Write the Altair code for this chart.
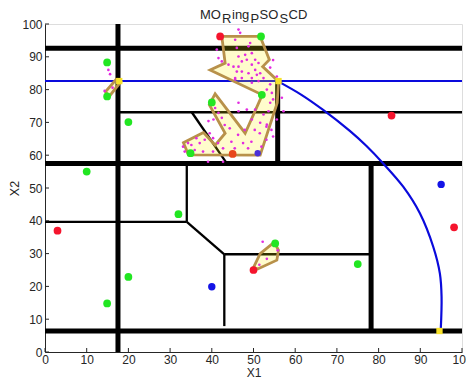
import altair as alt
import pandas as pd

# ---------------- data ----------------
tick_values = [0, 10, 20, 30, 40, 50, 60, 70, 80, 90, 100]

# thick black segments (x, y, x2, y2)
thick_x = [0, 0, 0, 17.5, 55.8, 78.2]
thick_y = [92.6, 57.5, 6.4, 0, 57.5, 6.4]
thick_x2 = [100, 100, 100, 17.5, 55.8, 78.2]
thick_y2 = [92.6, 57.5, 6.4, 100, 82.5, 57.5]

# thin black segments
thin_x = [17.5, 0, 34.0, 34.0, 43.0, 43.0, 35.2]
thin_y = [73.1, 39.7, 39.7, 39.7, 29.8, 29.8, 73.1]
thin_x2 = [100, 34.0, 34.0, 43.0, 78.2, 43.0, 43.6]
thin_y2 = [73.1, 39.7, 57.5, 29.8, 29.8, 7.9, 57.5]

# blue horizontal line
blue_h_y = [82.6]

# blue arc
arc_x = [55.9, 61.5, 66.7, 73.1, 77.1, 81.1, 85.9, 89.9, 93.1, 94.7, 95.1, 94.9]
arc_y = [82.5, 78.4, 73.8, 67.4, 62.8, 57.5, 50.4, 42.3, 32.1, 23.9, 16.8, 6.6]

# polygons
big_x = [42.4, 51.6, 53.8, 52.2, 56.0, 55.7, 51.6, 34.4, 33.2, 38.0, 40.8, 43.2,
         39.4, 40.8, 48.0, 52.1, 39.6, 43.2, 42.4]
big_y = [96.2, 96.2, 89.1, 87.0, 82.5, 76.0, 60.0, 60.1, 63.8, 66.9, 63.1, 66.7,
         75.4, 78.7, 66.7, 78.4, 86.0, 88.1, 96.2]
p1_x = [17.2, 14.5, 15.4, 18.2, 17.2]
p1_y = [83.3, 79.3, 77.9, 82.4, 83.3]
p2_x = [55.0, 51.6, 50.0, 51.0, 55.6, 56.0, 55.0]
p2_y = [33.5, 30.0, 25.8, 25.3, 28.0, 31.0, 33.5]

# magenta sample dots
mag_x = [46.4, 46.8, 45.6, 49.2, 48.8, 46.0, 46.4, 48.0, 49.6, 47.2, 48.4, 50.4,
         45.2, 46.4, 49.6, 51.2, 44.0, 46.0, 47.2, 48.8, 50.4, 51.6, 54.0, 54.7,
         41.6, 42.4, 41.2, 52.4, 49.6, 47.2, 45.6, 50.8, 55.6,
         45.6, 49.6, 51.2, 54.0, 53.2, 54.4, 54.7, 54.0, 56.8, 57.2, 55.6, 40.8,
         41.6, 42.4, 40.4, 46.4, 48.4, 50.4, 52.4, 53.6, 49.6, 51.6, 53.2, 39.2, 46.4,
         43.1, 44.3, 46.3, 47.9, 50.3, 51.5, 53.1, 53.1, 49.5, 47.5, 44.7, 41.5,
         42.7, 45.5, 48.7, 51.9, 36.3, 37.1, 35.1, 34.3, 35.9, 37.9, 40.3, 33.5,
         33.1, 39.1, 42.7, 38.3, 39.5, 40.3, 54.3, 54.7,
         15.2, 15.6, 14.3, 16.2, 52.2, 55.8, 51.4, 53.2, 94.6]
mag_y = [98.3, 97.3, 95.2, 94.2, 93.2, 92.7, 90.1, 90.6, 91.1, 88.6, 89.1, 89.1,
         87.0, 87.0, 87.6, 88.1, 87.6, 85.5, 85.5, 85.0, 86.0, 85.0, 86.7, 89.0,
         89.6, 88.6, 92.2, 83.5, 83.5, 83.5, 83.5, 84.5, 84.0,
         83.1, 82.1, 82.6, 81.6, 80.0, 79.0, 77.0, 76.0, 77.5, 73.4, 70.9, 74.4,
         72.9, 71.4, 70.9, 73.4, 73.9, 73.9, 72.4, 73.4, 70.9, 69.9, 69.3, 70.4, 76.0,
         69.2, 68.2, 66.2, 67.7, 67.7, 66.7, 68.7, 64.7, 64.1, 63.7, 64.1, 63.7,
         62.1, 62.1, 62.1, 62.6, 65.2, 63.7, 63.1, 63.7, 61.6, 61.1, 61.1, 61.1,
         62.6, 58.0, 58.0, 64.7, 66.7, 65.2, 67.7, 65.7,
         86.0, 84.7, 79.6, 80.6, 33.6, 31.0, 26.6, 28.4, 6.4]

# coloured samples
green_x = [14.9, 14.9, 20.0, 10.0, 32.0, 20.0, 14.9, 75.0, 55.2, 51.8, 52.0, 40.0, 34.9]
green_y = [88.3, 77.9, 70.1, 55.0, 42.0, 22.9, 14.8, 26.8, 33.1, 96.2, 78.4, 76.1, 60.6]
red_x = [3.0, 42.0, 83.1, 98.1, 50.0]
red_y = [37.0, 96.2, 72.1, 38.0, 25.0]
orange_x = [45.0]
orange_y = [60.4]
blue_x = [40.0, 95.0]
blue_y = [19.9, 51.1]
violet_x = [51.0]
violet_y = [60.6]
yellow_x = [17.8, 56.0, 94.6]
yellow_y = [82.6, 82.6, 6.4]

title_parts = ["MO", "R", "ing", "P", "SO", "S", "CD"]
title_sub = [False, True, False, True, False, True, False]

# ---------------- chart ----------------
W, H = 417, 328
FONT = "Liberation Sans"
AX = "#262626"

xs = alt.Scale(domain=[0, 100], nice=False, zero=False)
ys = alt.Scale(domain=[0, 100], nice=False, zero=False)

x_axis = alt.Axis(values=tick_values, tickSize=0, grid=False, labelPadding=2,
                  title="X1", titlePadding=2, domainColor=AX, labelColor=AX,
                  titleColor=AX, labelFont=FONT, titleFont=FONT, labelFontSize=12,
                  titleFontSize=12, titleFontWeight="normal", labelFlush=False)
y_axis = alt.Axis(values=tick_values, tickSize=0, grid=False, labelPadding=3,
                  title="X2", titlePadding=0, domainColor=AX, labelColor=AX,
                  titleColor=AX, labelFont=FONT, titleFont=FONT, labelFontSize=12,
                  titleFontSize=12.5, titleFontWeight="normal", labelFlush=False)


def X(f):
    return alt.X(f, type="quantitative", scale=xs, axis=x_axis)


def Y(f):
    return alt.Y(f, type="quantitative", scale=ys, axis=y_axis)


def pts(xv, yv):
    return pd.DataFrame({"x": xv, "y": yv})


thick_df = pd.DataFrame({"x": thick_x, "y": thick_y, "x2": thick_x2, "y2": thick_y2})
thin_df = pd.DataFrame({"x": thin_x, "y": thin_y, "x2": thin_x2, "y2": thin_y2})

thick = alt.Chart(thick_df).mark_rule(color="black", strokeWidth=5, strokeCap="butt").encode(
    x=X("x"), y=Y("y"), x2="x2", y2="y2")
thin = alt.Chart(thin_df).mark_rule(color="black", strokeWidth=2.3, strokeCap="butt").encode(
    x=X("x"), y=Y("y"), x2="x2", y2="y2")

blue_h = alt.Chart(pd.DataFrame({"x": [0], "x2": [100], "y": blue_h_y})).mark_rule(
    color="#0A0ADC", strokeWidth=2).encode(x=X("x"), x2="x2", y=Y("y"))

arc_df = pd.DataFrame({"x": arc_x, "y": arc_y, "i": list(range(len(arc_x)))})
arc = alt.Chart(arc_df).mark_line(color="#0A0ADC", strokeWidth=2.2,
                                  interpolate="catmull-rom").encode(
    x=X("x"), y=Y("y"), order="i:Q")

poly_rows = []
for name, px, py in [("big", big_x, big_y), ("p1", p1_x, p1_y), ("p2", p2_x, p2_y)]:
    for i, (a, b) in enumerate(zip(px, py)):
        poly_rows.append({"poly": name, "i": i, "x": a, "y": b})
poly_df = pd.DataFrame(poly_rows)
polys = alt.Chart(poly_df).mark_line(fill="#FFF000", fillOpacity=0.2, stroke="#B8914A",
                                     strokeWidth=2.8, strokeJoin="miter").encode(
    x=X("x"), y=Y("y"), order="i:Q", detail="poly:N")

mag = alt.Chart(pts(mag_x, mag_y)).mark_circle(color="#E22BE0", size=7, opacity=1).encode(
    x=X("x"), y=Y("y"))

def dots(xv, yv, color, size):
    return alt.Chart(pts(xv, yv)).mark_circle(color=color, size=size, opacity=1).encode(
        x=X("x"), y=Y("y"))

green = dots(green_x, green_y, "#22E622", 60)
red = dots(red_x, red_y, "#F5142D", 60)
orange = dots(orange_x, orange_y, "#E8461A", 60)
blue = dots(blue_x, blue_y, "#1414E6", 55)
violet = dots(violet_x, violet_y, "#4A30D8", 40)
yellow = alt.Chart(pts(yellow_x, yellow_y)).mark_square(color="#F7E22A", size=40, opacity=1).encode(
    x=X("x"), y=Y("y"))

# inward ticks
tick_df = pd.DataFrame({"v": tick_values})
xticks = alt.Chart(tick_df).mark_rule(color=AX, strokeWidth=1).encode(
    x=X("v"), y=alt.value(H), y2=alt.value(H - 4))
yticks = alt.Chart(tick_df).mark_rule(color=AX, strokeWidth=1).encode(
    y=Y("v"), x=alt.value(0), x2=alt.value(4))

# title with subscripts (layout positions in pixels)
title_x = [155, 177, 187, 205.5, 214.5, 234.5, 243.5]
title_layers = []
for t, sub, tx in zip(title_parts, title_sub, title_x):
    title_layers.append(
        alt.Chart(pd.DataFrame({"t": [t]})).mark_text(
            align="left", baseline="alphabetic", font=FONT, fontSize=13,
            color=AX).encode(text="t:N", x=alt.value(tx),
                             y=alt.value(-1 if sub else -5)))

chart = alt.layer(thick, thin, blue_h, arc, polys, mag, green, red, orange, blue,
                  violet, yellow, xticks, yticks, *title_layers).properties(
    width=W, height=H,
    autosize=alt.AutoSizeParams(type="none"),
    padding={"left": 37, "top": 16, "right": 4, "bottom": 30},
).configure_view(stroke=None).configure(background="white")

chart.save("out.html", embed_options={"renderer": "svg", "actions": False})
